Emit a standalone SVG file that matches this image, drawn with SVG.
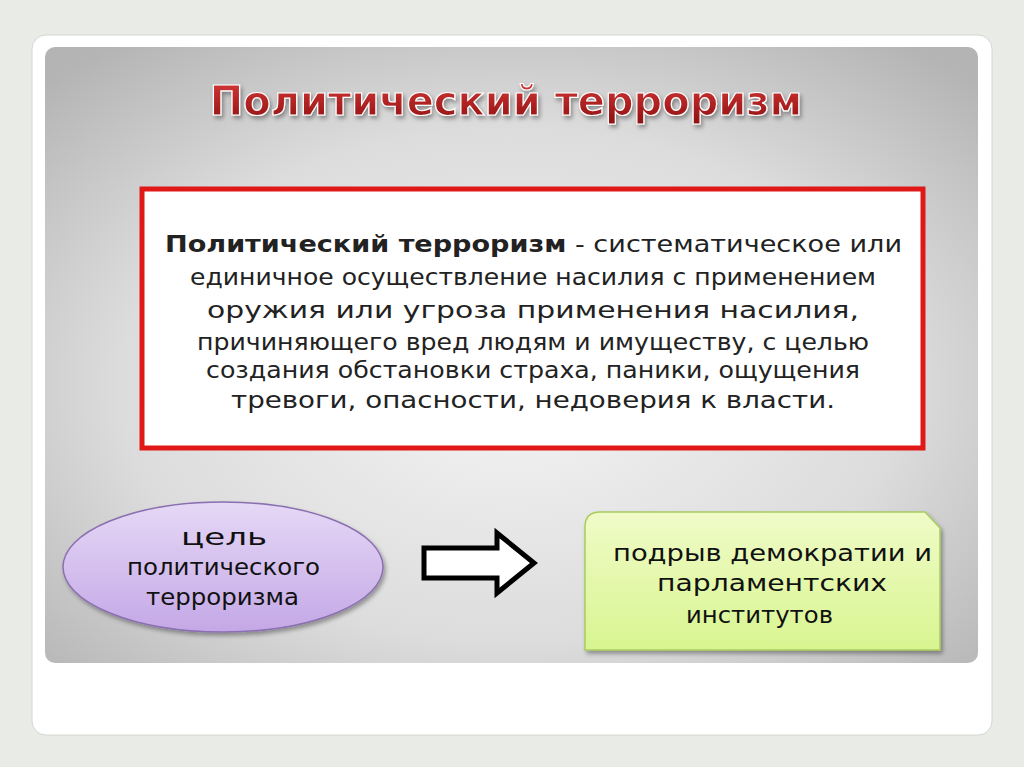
<svg xmlns="http://www.w3.org/2000/svg" width="1024" height="767" viewBox="0 0 1024 767">
<defs>
<radialGradient id="bg" cx="0.5" cy="0.55" r="0.7">
<stop offset="0" stop-color="#f4f4f4"/><stop offset="0.6" stop-color="#dcdcdc"/><stop offset="1" stop-color="#b4b4b4"/>
</radialGradient>
<linearGradient id="vio" x1="0" y1="0" x2="0" y2="1"><stop offset="0" stop-color="#e6d8f6"/><stop offset="1" stop-color="#c4a8e6"/></linearGradient>
<linearGradient id="grn" x1="0" y1="0" x2="0" y2="1"><stop offset="0" stop-color="#f0fbc8"/><stop offset="1" stop-color="#d8f590"/></linearGradient>
<linearGradient id="red" x1="0" y1="0" x2="0" y2="1"><stop offset="0" stop-color="#d83a3a"/><stop offset="1" stop-color="#8e1010"/></linearGradient>
<filter id="sh" x="-10%" y="-10%" width="130%" height="130%"><feDropShadow dx="2" dy="3" stdDeviation="2" flood-opacity="0.35"/></filter>
</defs>
<style>
.t{font-family:"DejaVu Sans",sans-serif;fill:#222;font-size:23px}
.n{font-family:"DejaVu Sans",sans-serif;font-size:23px;fill:#111}
</style>
<rect width="1024" height="767" fill="#e8ebe6"/>
<rect x="32" y="35" width="960" height="700" rx="14" fill="#ffffff" stroke="#d4d8d0"/>
<rect x="45" y="47" width="933" height="616" rx="10" fill="url(#bg)"/>
<g id="title">
<text x="506" y="115" text-anchor="middle" font-family="'DejaVu Sans',sans-serif" font-weight="bold" font-size="40" fill="url(#red)" stroke="#fff" stroke-width="1.2" filter="url(#sh)">Политический терроризм</text>
</g>
<g id="definition">
<rect x="142" y="189" width="781" height="259" fill="#fff" stroke="#e01818" stroke-width="5"/>
<text class="t" x="165" y="252" textLength="737" lengthAdjust="spacingAndGlyphs"><tspan font-weight="bold">Политический терроризм</tspan> -  систематическое или</text>
<text class="t" x="190" y="285" textLength="686" lengthAdjust="spacingAndGlyphs">единичное осуществление насилия с применением</text>
<text class="t" x="207" y="318" textLength="652" lengthAdjust="spacingAndGlyphs">оружия или угроза применения насилия,</text>
<text class="t" x="197" y="350" textLength="672" lengthAdjust="spacingAndGlyphs">причиняющего вред людям и имуществу, с целью</text>
<text class="t" x="206" y="378" textLength="654" lengthAdjust="spacingAndGlyphs">создания обстановки страха, паники, ощущения</text>
<text class="t" x="231" y="408" textLength="604" lengthAdjust="spacingAndGlyphs">тревоги, опасности, недоверия к власти.</text>
</g>
<g id="goal">
<ellipse cx="223" cy="567" rx="160" ry="65" fill="url(#vio)" stroke="#8a70b0" stroke-width="1.5" filter="url(#sh)"/>
<text class="n" x="181" y="545" textLength="86" lengthAdjust="spacingAndGlyphs">цель</text>
<text class="n" x="127" y="575" textLength="193" lengthAdjust="spacingAndGlyphs">политического</text>
<text class="n" x="146" y="605" textLength="153" lengthAdjust="spacingAndGlyphs">терроризма</text>
</g>
<g id="connectors">
<path d="M424,548 H497 V533 L534,563 L497,593 V578 H424 Z" fill="#fff" stroke="#000" stroke-width="5" stroke-linejoin="miter"/>
</g>
<g id="result">
<path d="M600,512 H925 L940,528 V650 H585 V527 Q585,512 600,512 Z" fill="url(#grn)" stroke="#a8cc60" stroke-width="1.5" filter="url(#sh)"/>
<text class="n" x="613" y="561" textLength="319" lengthAdjust="spacingAndGlyphs">подрыв демократии и</text>
<text class="n" x="657" y="591" textLength="230" lengthAdjust="spacingAndGlyphs">парламентских</text>
<text class="n" x="686" y="623" textLength="147" lengthAdjust="spacingAndGlyphs">институтов</text>
</g>
</svg>
